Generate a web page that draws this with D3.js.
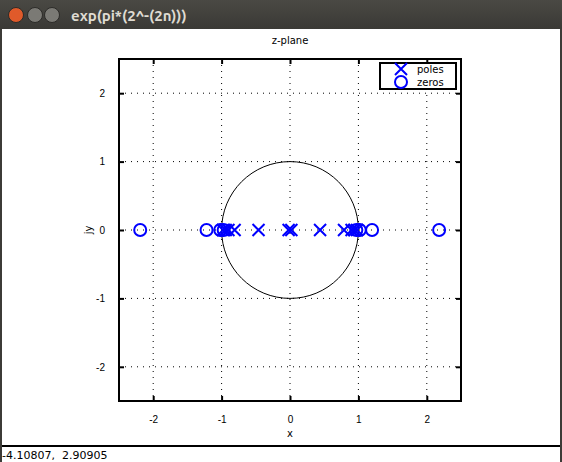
<!DOCTYPE html>
<html>
<head>
<meta charset="utf-8">
<script src="https://d3js.org/d3.v7.min.js"></script>
<style>body{margin:0;background:#fff}svg{display:block}</style>
</head>
<body>
<script>
const poles = [-0.98, -0.94, -0.9, -0.81, -0.46, -0.02, 0.02, 0.44, 0.79, 0.9, 0.94, 0.98];
const zeros = [-2.19, -1.22, -1.02, -0.97, 0.97, 1.02, 1.2, 2.18];
const ticks = [-2, -1, 0, 1, 2];

const W = 562, H = 462;
const svg = d3.select("body").append("svg").attr("width", W).attr("height", H);

// window chrome
const g0 = svg.append("defs").append("linearGradient").attr("id", "tb").attr("x2", 0).attr("y2", 1);
g0.append("stop").attr("offset", 0).attr("stop-color", "#4a4944");
g0.append("stop").attr("offset", 1).attr("stop-color", "#3a3935");
svg.append("rect").attr("width", W).attr("height", H).attr("fill", "#3c3b37");
svg.append("rect").attr("width", W).attr("height", 29).attr("fill", "url(#tb)");
svg.append("rect").attr("x", 2).attr("y", 29).attr("width", W - 4).attr("height", H - 29).attr("fill", "#fff");
[["#e05a2a", 16], ["#7b7a75", 35], ["#7b7a75", 52]].forEach(([c, cx]) =>
  svg.append("circle").attr("cx", cx).attr("cy", 15).attr("r", 7.5).attr("fill", c).attr("stroke", "#2c2b28"));
svg.append("text").attr("x", 71).attr("y", 21).attr("fill", "#dfdbd2")
  .attr("font-family", "Ubuntu, 'DejaVu Sans'").attr("font-weight", "bold").attr("font-size", 15)
  .text("exp(pi*(2^-(2n)))");

// status bar
svg.append("rect").attr("x", 2).attr("y", 445).attr("width", W - 4).attr("height", 2).attr("fill", "#000");
svg.append("rect").attr("x", 2).attr("y", 447).attr("width", W - 4).attr("height", 15).attr("fill", "#fff");
svg.append("text").attr("x", 2).attr("y", 459).attr("font-family", "'DejaVu Sans'").attr("font-size", 11)
  .style("white-space", "pre").text("-4.10807,  2.90905");

// plot
const x = d3.scaleLinear().domain([-2.5, 2.5]).range([119, 461]);
const y = d3.scaleLinear().domain([-2.5, 2.5]).range([401, 59]);
const font = "'DejaVu Sans'";
const fmt = d => String(d);

const grid = svg.append("g").attr("stroke", "#000").attr("stroke-dasharray", "1,5");
ticks.forEach(t => {
  grid.append("line").attr("x1", x(t)).attr("x2", x(t)).attr("y1", y(2.5)).attr("y2", y(-2.5));
  grid.append("line").attr("y1", y(t)).attr("y2", y(t)).attr("x1", x(-2.5)).attr("x2", x(2.5));
});

const ax = svg.append("g").attr("font-family", font).attr("font-size", 10);
ax.append("g").attr("transform", `translate(0,${y(-2.5)})`)
  .call(d3.axisBottom(x).tickValues(ticks).tickSize(-5).tickPadding(15).tickFormat(fmt));
ax.append("g").attr("transform", `translate(0,${y(2.5)})`)
  .call(d3.axisTop(x).tickValues(ticks).tickSize(-5).tickFormat(""));
ax.append("g").attr("transform", `translate(${x(-2.5)},0)`)
  .call(d3.axisLeft(y).tickValues(ticks).tickSize(-5).tickPadding(14).tickFormat(fmt));
ax.append("g").attr("transform", `translate(${x(2.5)},0)`)
  .call(d3.axisRight(y).tickValues(ticks).tickSize(-5).tickFormat(""));
ax.selectAll(".domain").remove();
ax.selectAll(".tick line").attr("stroke-width", 2);
svg.append("rect").attr("x", x(-2.5)).attr("y", y(2.5)).attr("width", x(2.5) - x(-2.5)).attr("height", y(-2.5) - y(2.5))
  .attr("fill", "none").attr("stroke", "#000").attr("stroke-width", 2);

// unit circle
svg.append("ellipse").attr("cx", x(0)).attr("cy", y(0)).attr("rx", x(1) - x(0)).attr("ry", y(0) - y(1))
  .attr("fill", "none").attr("stroke", "#000");

svg.append("text").attr("x", x(0)).attr("y", 44).attr("text-anchor", "middle").attr("font-family", font).attr("font-size", 10).text("z-plane");
svg.append("text").attr("x", x(0)).attr("y", 437).attr("text-anchor", "middle").attr("font-family", font).attr("font-size", 10).text("x");
svg.append("text").attr("transform", `translate(92,${y(0)}) rotate(-90)`).attr("text-anchor", "middle").attr("font-family", font).attr("font-size", 10).text("jy");

const blue = "#0000ff";
function cross(sel, cx, cy) {
  sel.append("path").attr("d", `M${cx - 6},${cy - 6}L${cx + 6},${cy + 6}M${cx - 6},${cy + 6}L${cx + 6},${cy - 6}`)
    .attr("stroke", blue).attr("stroke-width", 2).attr("fill", "none");
}
function ring(sel, cx, cy) {
  sel.append("circle").attr("cx", cx).attr("cy", cy).attr("r", 6)
    .attr("stroke", blue).attr("stroke-width", 2).attr("fill", "none");
}
const mk = svg.append("g");
zeros.forEach(z => ring(mk, x(z), y(0)));
poles.forEach(p => cross(mk, x(p), y(0)));

// legend
svg.append("rect").attr("x", 380).attr("y", 63).attr("width", 76).attr("height", 26)
  .attr("fill", "#fff").attr("stroke", "#000").attr("stroke-width", 2);
cross(svg, 401, 69); ring(svg, 401, 82);
svg.append("text").attr("x", 417).attr("y", 73).attr("font-family", font).attr("font-size", 10).text("poles");
svg.append("text").attr("x", 417).attr("y", 86).attr("font-family", font).attr("font-size", 10).text("zeros");
</script>
</body>
</html>
